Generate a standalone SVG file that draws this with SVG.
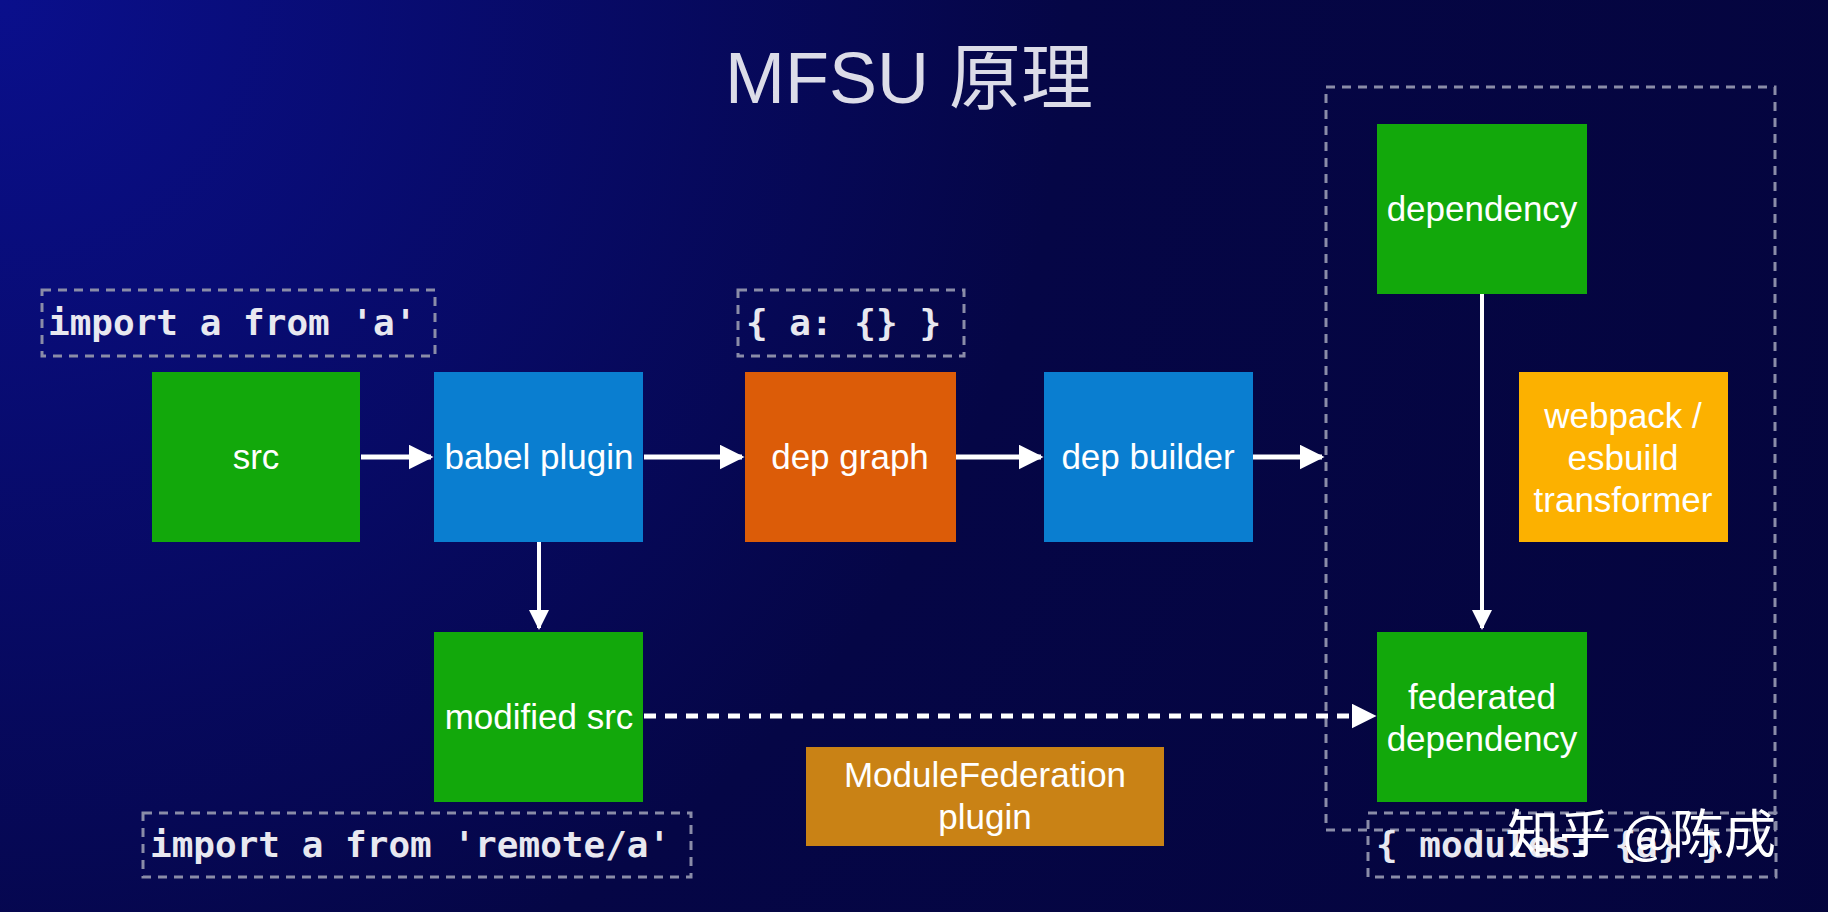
<svg xmlns="http://www.w3.org/2000/svg" width="1828" height="912" viewBox="0 0 1828 912">
<defs>
<radialGradient id="bg" cx="0" cy="0" r="1.3" gradientUnits="objectBoundingBox" gradientTransform="scale(1,2)">
<stop offset="0" stop-color="#0a0f8c"/><stop offset="0.45" stop-color="#050646"/><stop offset="1" stop-color="#04043a"/>
</radialGradient>
<marker id="ah" viewBox="0 0 10 10" refX="9" refY="5" markerWidth="5" markerHeight="5" orient="auto" markerUnits="strokeWidth"><path d="M0,0L10,5L0,10z" fill="#fff"/></marker>
<style>
.n text{font-family:"Liberation Sans",Arial,sans-serif;font-size:35px;fill:#fff;text-anchor:middle}
.code{font-family:"DejaVu Sans Mono",monospace;font-weight:bold;font-size:36px;fill:#e8e8f0}
.dbox{fill:none;stroke:#8a8ca8;stroke-width:3;stroke-dasharray:9,7}
.c line{stroke:#fff;stroke-width:5}
</style>
</defs>
<rect width="1828" height="912" fill="url(#bg)"/>
<text x="909" y="103" text-anchor="middle" font-family="'Liberation Sans','Noto Sans CJK SC',sans-serif" font-size="72" fill="#dcdce8">MFSU 原理</text>
<rect class="dbox" x="1326" y="87" width="449" height="743"/>
<g id="src" class="n"><rect x="152" y="372" width="208" height="170" fill="#12a80b"/><text x="256" y="469">src</text></g>
<g id="babel" class="n"><rect x="434" y="372" width="209" height="170" fill="#0a7ed0"/><text x="539" y="469">babel plugin</text></g>
<g id="depgraph" class="n"><rect x="745" y="372" width="211" height="170" fill="#dc5c08"/><text x="850" y="469">dep graph</text></g>
<g id="depbuilder" class="n"><rect x="1044" y="372" width="209" height="170" fill="#0a7ed0"/><text x="1148" y="469">dep builder</text></g>
<g id="transformer" class="n"><rect x="1519" y="372" width="209" height="170" fill="#fcb100"/><text x="1623" y="428">webpack /</text><text x="1623" y="470">esbuild</text><text x="1623" y="512">transformer</text></g>
<g id="dependency" class="n"><rect x="1377" y="124" width="210" height="170" fill="#12a80b"/><text x="1482" y="221">dependency</text></g>
<g id="federated" class="n"><rect x="1377" y="632" width="210" height="170" fill="#12a80b"/><text x="1482" y="709">federated</text><text x="1482" y="751">dependency</text></g>
<g id="modified" class="n"><rect x="434" y="632" width="209" height="170" fill="#12a80b"/><text x="539" y="729">modified src</text></g>
<g id="mfplugin" class="n"><rect x="806" y="747" width="358" height="99" fill="#c98215"/><text x="985" y="787">ModuleFederation</text><text x="985" y="829">plugin</text></g>
<g id="code1"><rect class="dbox" x="42" y="290" width="393" height="66"/><text class="code" x="48" y="335">import a from 'a'</text></g>
<g id="code2"><rect class="dbox" x="738" y="290" width="226" height="66"/><text class="code" x="746" y="335">{ a: {} }</text></g>
<g id="code3"><rect class="dbox" x="143" y="813" width="548" height="64"/><text class="code" x="150" y="857">import a from 'remote/a'</text></g>
<g id="code4"><rect class="dbox" x="1368" y="813" width="408" height="64"/><text class="code" x="1376" y="857">{ modules: {a} }</text></g>
<g id="connectors" class="c">
<line x1="361" y1="457" x2="431" y2="457" marker-end="url(#ah)"/>
<line x1="644" y1="457" x2="742" y2="457" marker-end="url(#ah)"/>
<line x1="956" y1="457" x2="1041" y2="457" marker-end="url(#ah)"/>
<line x1="1253" y1="457" x2="1322" y2="457" marker-end="url(#ah)"/>
<line x1="539" y1="542" x2="539" y2="628" style="stroke-width:4" marker-end="url(#ah)"/>
<line x1="1482" y1="294" x2="1482" y2="628" style="stroke-width:4" marker-end="url(#ah)"/>
<line x1="644" y1="716" x2="1374" y2="716" style="stroke-dasharray:12,9" marker-end="url(#ah)"/>
</g>
<text x="1776" y="853" text-anchor="end" font-family="'Noto Sans CJK SC',sans-serif" font-size="52" fill="#ffffff">知乎 @陈成</text>
</svg>
